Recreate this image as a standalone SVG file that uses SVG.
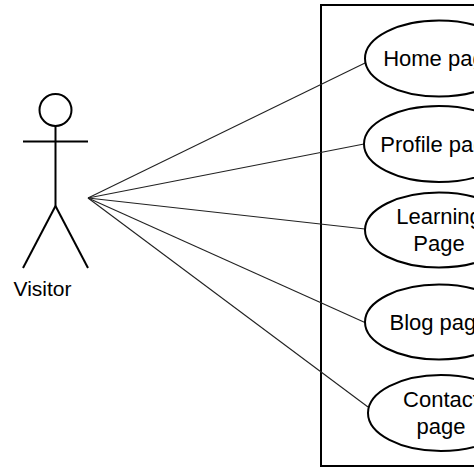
<svg xmlns="http://www.w3.org/2000/svg" width="474" height="474" viewBox="0 0 474 474">
<style>
.sh{fill:#fff;stroke:#000;stroke-width:2}
.act{fill:none;stroke:#000;stroke-width:2}
.lbl{font-family:"Liberation Sans",Arial,sans-serif;font-size:22px;fill:#000;text-anchor:middle}
.con line{stroke:#222;stroke-width:1.1}
</style>
<rect width="474" height="474" fill="#fff"/>
<g id="system"><rect x="321" y="5" width="170" height="461" class="sh"/></g>
<g id="connectors" class="con">
<line x1="88" y1="198" x2="365" y2="63"/>
<line x1="88" y1="198" x2="364" y2="144"/>
<line x1="88" y1="198" x2="365" y2="229"/>
<line x1="88" y1="198" x2="366" y2="323"/>
<line x1="88" y1="198" x2="368" y2="407"/>
</g>
<g id="visitor">
<circle cx="55.5" cy="110" r="16" class="act"/>
<line x1="55.5" y1="126" x2="55.5" y2="206" class="act"/>
<line x1="23" y1="141.5" x2="88" y2="141.5" class="act"/>
<line x1="55.5" y1="206" x2="23" y2="268" class="act"/>
<line x1="55.5" y1="206" x2="88" y2="268" class="act"/>
<text x="42.5" y="296" class="lbl" style="font-size:21px">Visitor</text>
</g>
<g id="home"><ellipse cx="439" cy="58.5" rx="74" ry="38" class="sh"/><text x="440" y="66" class="lbl">Home page</text></g>
<g id="profile"><ellipse cx="439" cy="144" rx="75" ry="38" class="sh"/><text x="439" y="151.5" class="lbl">Profile page</text></g>
<g id="learning"><ellipse cx="439" cy="230" rx="74" ry="37.5" class="sh"/><text x="439" y="224" class="lbl">Learning</text><text x="439" y="251" class="lbl">Page</text></g>
<g id="blog"><ellipse cx="439" cy="322" rx="74" ry="37.5" class="sh"/><text x="439" y="329.5" class="lbl">Blog page</text></g>
<g id="contact"><ellipse cx="441" cy="413" rx="73" ry="38" class="sh"/><text x="441" y="407" class="lbl">Contact</text><text x="441" y="434" class="lbl">page</text></g>
</svg>
